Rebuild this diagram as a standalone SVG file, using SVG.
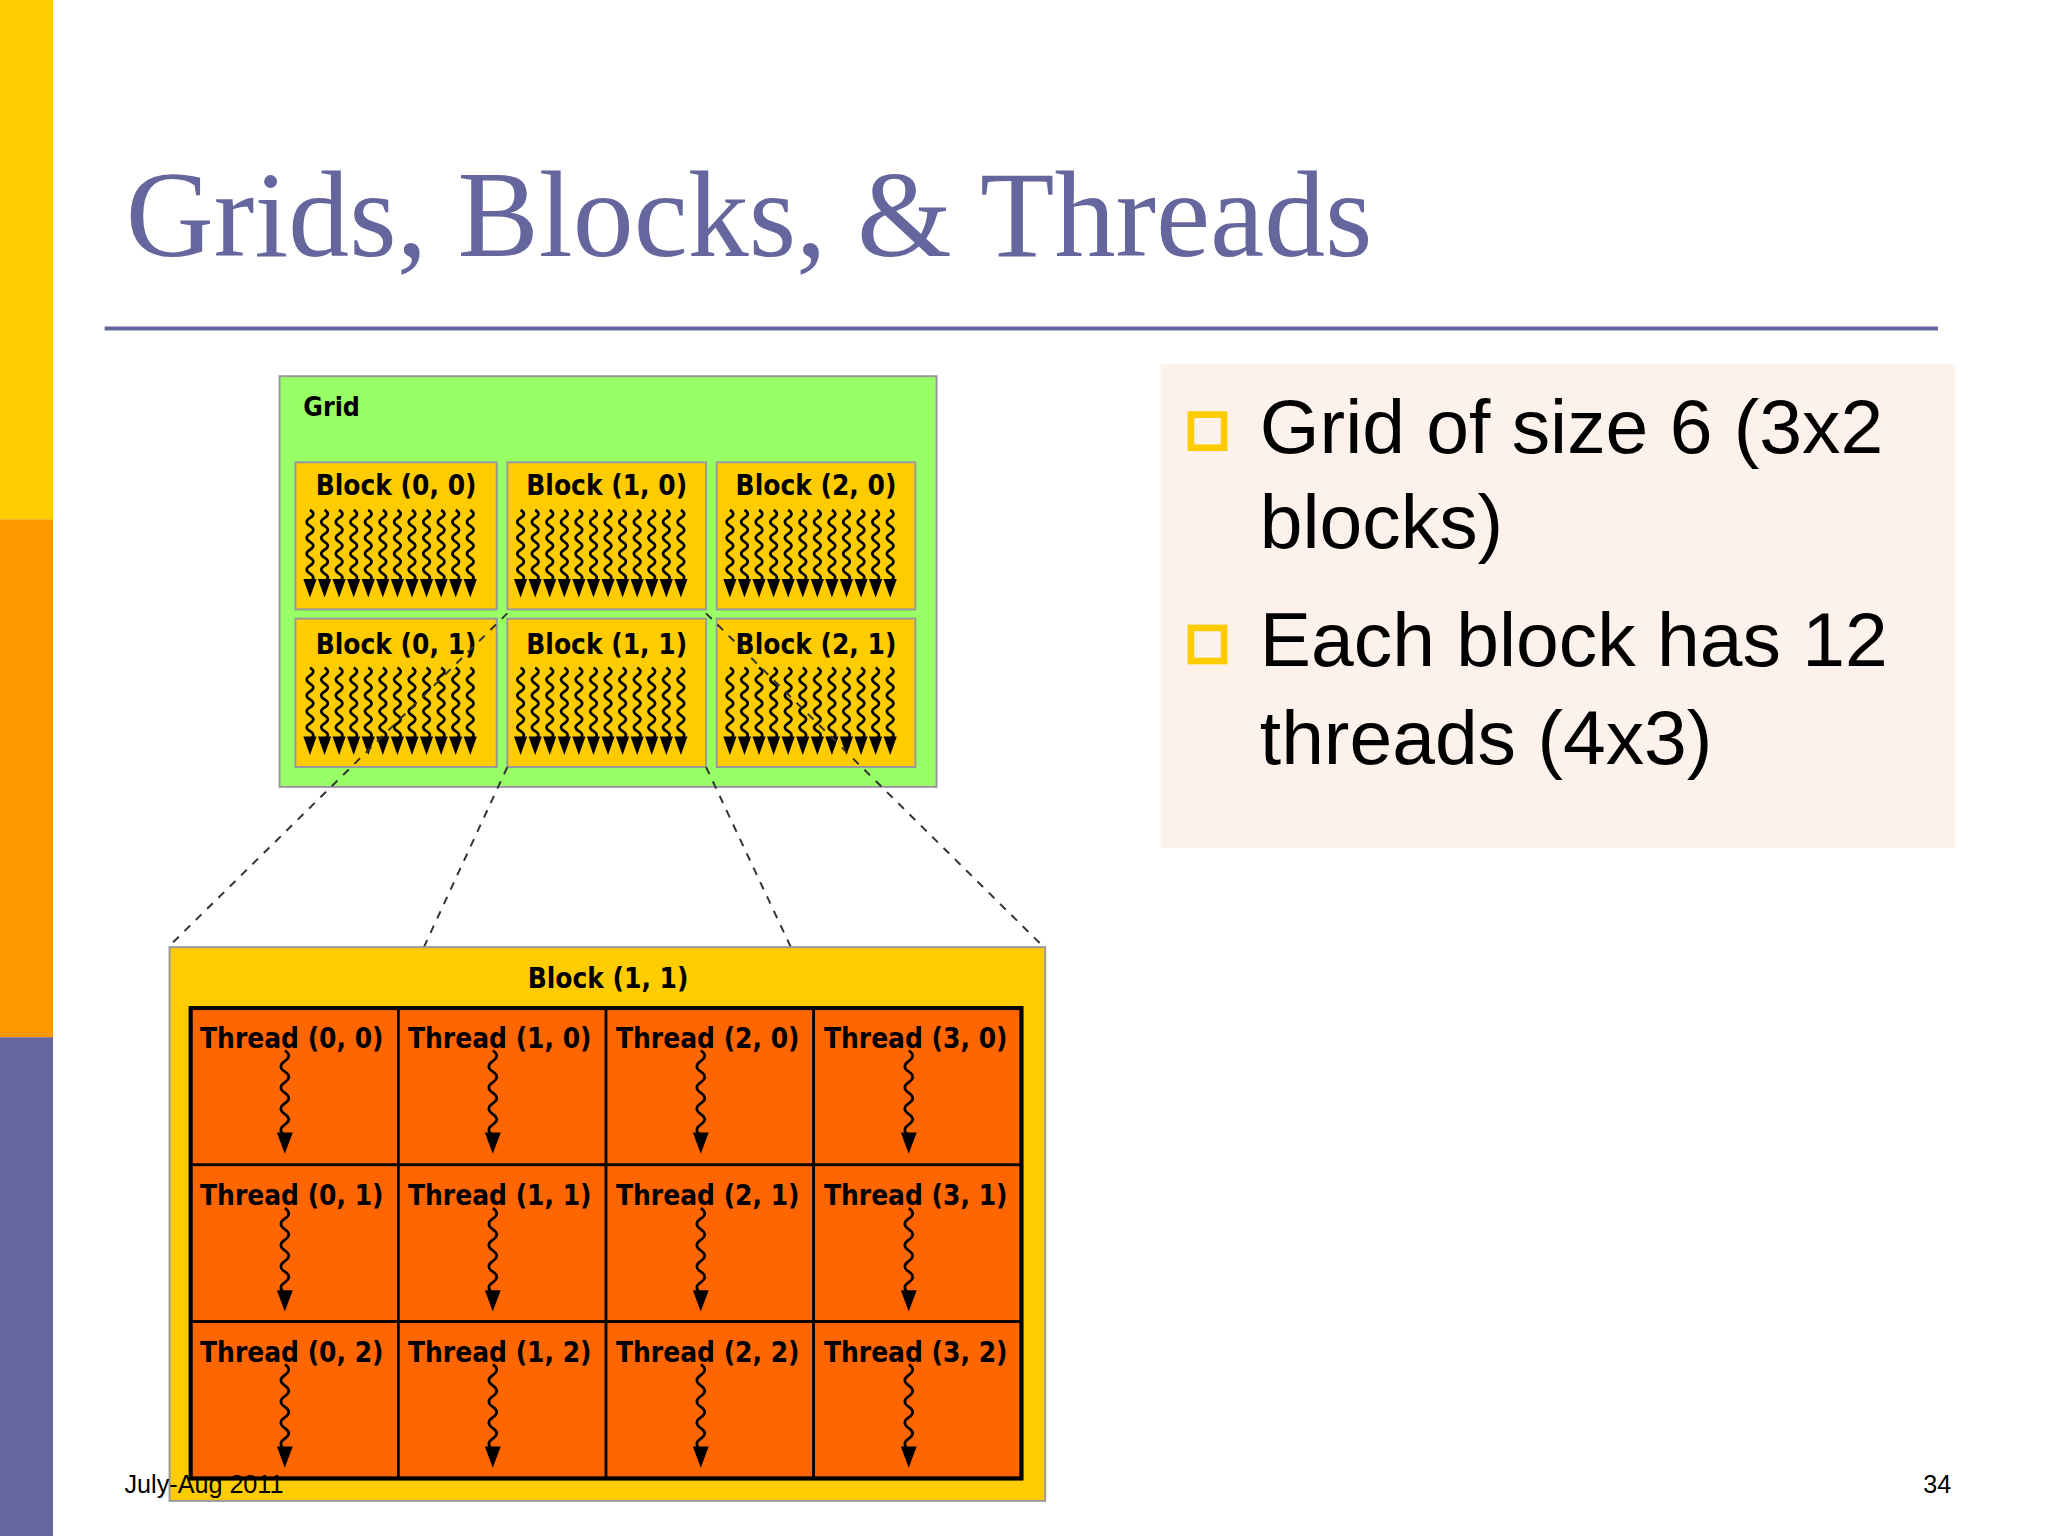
<svg xmlns="http://www.w3.org/2000/svg" xmlns:xlink="http://www.w3.org/1999/xlink" width="2048" height="1536" viewBox="0 0 2048 1536">
<style>
.lbl{font-family:"DejaVu Sans Condensed","DejaVu Sans",sans-serif;font-weight:bold;fill:#000}
.blk{fill:#FFCC00;stroke:#999;stroke-width:1.5}
.th{fill:#FF6600;stroke:#000;stroke-width:2}
.wave{fill:none;stroke:#000;stroke-width:2}
.dash{fill:none;stroke:#333;stroke-width:1.5;stroke-dasharray:6,6}
.bt{font-family:"Liberation Sans",Arial,sans-serif;font-size:58px;fill:#000}
</style>
<defs>
<g id="sw"><path class="wave" d="M0,0 q5,3 0,6 q-5,3 0,6 q5,3 0,6 q-5,3 0,6 q5,3 0,6 q-5,3 0,6 q5,3 0,6 q-5,3 0,6 q5,3 0,6"/><polygon points="-5,52 5,52 0,66"/></g>
<g id="bw"><use xlink:href="#sw" x="0"/><use xlink:href="#sw" x="11"/><use xlink:href="#sw" x="22"/><use xlink:href="#sw" x="33"/><use xlink:href="#sw" x="44"/><use xlink:href="#sw" x="55"/><use xlink:href="#sw" x="66"/><use xlink:href="#sw" x="77"/><use xlink:href="#sw" x="88"/><use xlink:href="#sw" x="99"/><use xlink:href="#sw" x="110"/><use xlink:href="#sw" x="121"/></g>
<g id="tw"><path class="wave" d="M0,0 q6,4 0,8 q-6,4 0,8 q6,4 0,8 q-6,4 0,8 q6,4 0,8 q-6,4 0,8 q6,4 0,8 q-6,4 0,8"/><polygon points="-6,62 6,62 0,78"/></g>
</defs>
<rect width="2048" height="1536" fill="#fff"/>
<g transform="scale(1.3247)">
<rect x="0" y="0" width="40" height="392" fill="#FFCC00"/>
<rect x="0" y="392" width="40" height="391" fill="#FF9900"/>
<rect x="0" y="783" width="40" height="380" fill="#66669E"/>
<text x="95" y="193" font-family="'Liberation Serif','Times New Roman',serif" font-size="92" fill="#66669E">Grids, Blocks, &amp; Threads</text>
<line x1="79" y1="248" x2="1463" y2="248" stroke="#66669E" stroke-width="3"/>
<g id="bullets">
<rect x="876" y="275" width="600" height="365" fill="#FDF1EC"/>
<rect x="899" y="313" width="25" height="25" fill="none" stroke="#FFCC00" stroke-width="5"/>
<text class="bt" x="951" y="342">Grid of size 6 (3x2</text>
<text class="bt" x="951" y="414">blocks)</text>
<rect x="899" y="474" width="25" height="25" fill="none" stroke="#FFCC00" stroke-width="5"/>
<text class="bt" x="951" y="503">Each block has 12</text>
<text class="bt" x="951" y="577">threads (4x3)</text>
</g>
<g id="grid">
<rect x="211" y="284" width="496" height="310" fill="#99FF66" stroke="#999" stroke-width="1.5"/>
<text class="lbl" x="229" y="314" font-size="20">Grid</text>
</g>
<g id="b00"><rect class="blk" x="223" y="349" width="152" height="111"/><text class="lbl" x="299" y="374" font-size="21" text-anchor="middle">Block (0, 0)</text><use xlink:href="#bw" x="234" y="385"/></g>
<g id="b10"><rect class="blk" x="383" y="349" width="150" height="111"/><text class="lbl" x="458" y="374" font-size="21" text-anchor="middle">Block (1, 0)</text><use xlink:href="#bw" x="393" y="385"/></g>
<g id="b20"><rect class="blk" x="541" y="349" width="150" height="111"/><text class="lbl" x="616" y="374" font-size="21" text-anchor="middle">Block (2, 0)</text><use xlink:href="#bw" x="551" y="385"/></g>
<g id="b01"><rect class="blk" x="223" y="467" width="152" height="112"/><text class="lbl" x="299" y="494" font-size="21" text-anchor="middle">Block (0, 1)</text><use xlink:href="#bw" x="234" y="504"/></g>
<g id="b11"><rect class="blk" x="383" y="467" width="150" height="112"/><text class="lbl" x="458" y="494" font-size="21" text-anchor="middle">Block (1, 1)</text><use xlink:href="#bw" x="393" y="504"/></g>
<g id="b21"><rect class="blk" x="541" y="467" width="150" height="112"/><text class="lbl" x="616" y="494" font-size="21" text-anchor="middle">Block (2, 1)</text><use xlink:href="#bw" x="551" y="504"/></g>
<g id="connectors">
<line class="dash" x1="383" y1="463" x2="130" y2="712"/>
<line class="dash" x1="383" y1="579" x2="320" y2="715"/>
<line class="dash" x1="533" y1="579" x2="597" y2="715"/>
<line class="dash" x1="533" y1="463" x2="785" y2="712"/>
</g>
<g id="bigblock">
<rect x="128" y="715" width="661" height="418" fill="#FFCC00" stroke="#999" stroke-width="1.5"/>
<text class="lbl" x="459" y="746" font-size="21" text-anchor="middle">Block (1, 1)</text>
<rect x="144" y="761" width="627" height="355" fill="#FF6600" stroke="#000" stroke-width="3"/>
</g>
<g id="t00"><rect class="th" x="144" y="761" width="156.75" height="118.3"/><text class="lbl" x="151" y="791" font-size="21">Thread (0, 0)</text><use xlink:href="#tw" x="215" y="793"/></g>
<g id="t10"><rect class="th" x="300.75" y="761" width="156.75" height="118.3"/><text class="lbl" x="308" y="791" font-size="21">Thread (1, 0)</text><use xlink:href="#tw" x="372" y="793"/></g>
<g id="t20"><rect class="th" x="457.5" y="761" width="156.75" height="118.3"/><text class="lbl" x="465" y="791" font-size="21">Thread (2, 0)</text><use xlink:href="#tw" x="529" y="793"/></g>
<g id="t30"><rect class="th" x="614.25" y="761" width="156.75" height="118.3"/><text class="lbl" x="622" y="791" font-size="21">Thread (3, 0)</text><use xlink:href="#tw" x="686" y="793"/></g>
<g id="t01"><rect class="th" x="144" y="879.3" width="156.75" height="118.3"/><text class="lbl" x="151" y="910" font-size="21">Thread (0, 1)</text><use xlink:href="#tw" x="215" y="912"/></g>
<g id="t11"><rect class="th" x="300.75" y="879.3" width="156.75" height="118.3"/><text class="lbl" x="308" y="910" font-size="21">Thread (1, 1)</text><use xlink:href="#tw" x="372" y="912"/></g>
<g id="t21"><rect class="th" x="457.5" y="879.3" width="156.75" height="118.3"/><text class="lbl" x="465" y="910" font-size="21">Thread (2, 1)</text><use xlink:href="#tw" x="529" y="912"/></g>
<g id="t31"><rect class="th" x="614.25" y="879.3" width="156.75" height="118.3"/><text class="lbl" x="622" y="910" font-size="21">Thread (3, 1)</text><use xlink:href="#tw" x="686" y="912"/></g>
<g id="t02"><rect class="th" x="144" y="997.7" width="156.75" height="118.3"/><text class="lbl" x="151" y="1028" font-size="21">Thread (0, 2)</text><use xlink:href="#tw" x="215" y="1030"/></g>
<g id="t12"><rect class="th" x="300.75" y="997.7" width="156.75" height="118.3"/><text class="lbl" x="308" y="1028" font-size="21">Thread (1, 2)</text><use xlink:href="#tw" x="372" y="1030"/></g>
<g id="t22"><rect class="th" x="457.5" y="997.7" width="156.75" height="118.3"/><text class="lbl" x="465" y="1028" font-size="21">Thread (2, 2)</text><use xlink:href="#tw" x="529" y="1030"/></g>
<g id="t32"><rect class="th" x="614.25" y="997.7" width="156.75" height="118.3"/><text class="lbl" x="622" y="1028" font-size="21">Thread (3, 2)</text><use xlink:href="#tw" x="686" y="1030"/></g>
<rect x="144" y="761" width="627" height="355" fill="none" stroke="#000" stroke-width="3"/>
<text x="94" y="1127" font-family="'Liberation Sans',Arial,sans-serif" font-size="19" fill="#000">July-Aug 2011</text>
<text x="1473" y="1127" font-family="'Liberation Sans',Arial,sans-serif" font-size="19" fill="#000" text-anchor="end">34</text>
</g>
</svg>
